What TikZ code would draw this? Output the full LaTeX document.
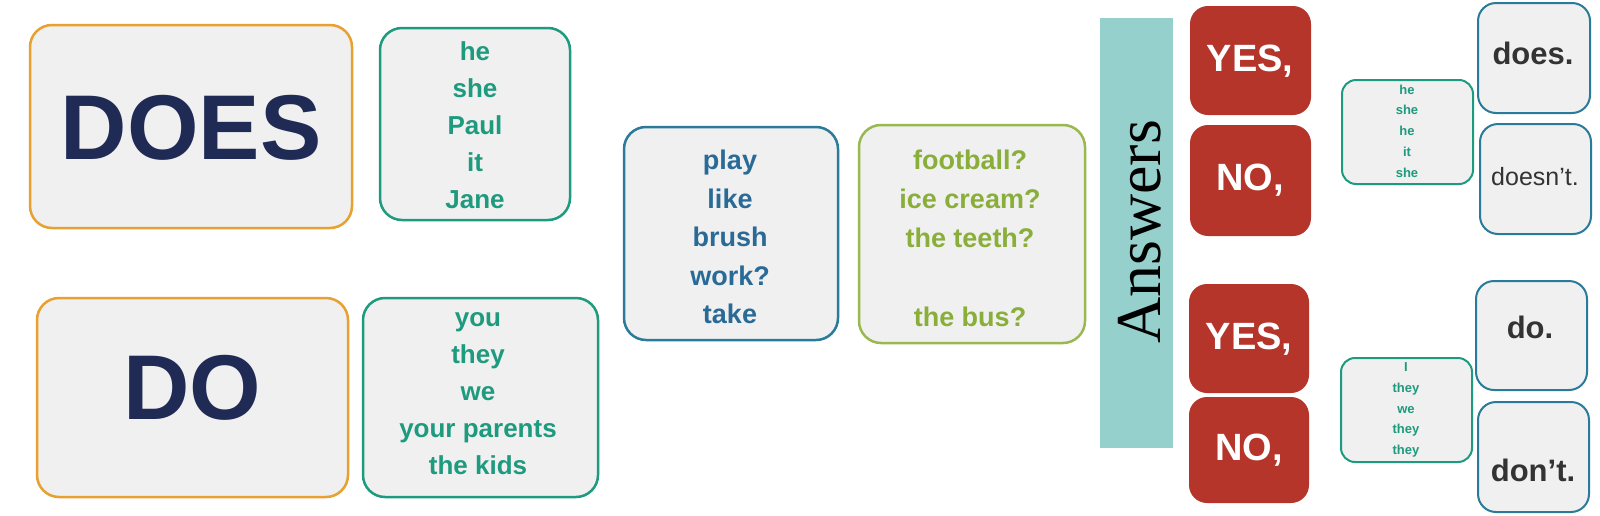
\documentclass[tikz,border=0pt]{standalone}
\usepackage{fontspec}
\setmainfont{Liberation Sans}
\newfontfamily\serifx{Liberation Serif}
\definecolor{orng}{HTML}{E8A030}
\definecolor{teal2}{HTML}{1E9A7E}
\definecolor{blu}{HTML}{2A7A9A}
\definecolor{blutxt}{HTML}{2A6A96}
\definecolor{grn}{HTML}{9AB850}
\definecolor{grntxt}{HTML}{8AAE3A}
\definecolor{bar}{HTML}{96D0CC}
\definecolor{redb}{HTML}{B5352B}
\definecolor{navy}{HTML}{1F2A55}
\definecolor{boxfill}{HTML}{F0F0F0}
\definecolor{dark}{HTML}{333333}
\begin{document}
\begin{tikzpicture}[x=1pt,y=-1pt,
  card/.style={rounded corners=22pt,fill=boxfill,line width=2.5pt},
  redcard/.style={rounded corners=18pt,fill=redb,draw=none},
  lbl/.style={font=\bfseries\fontsize{26}{37}\selectfont,align=center,inner sep=0pt},
  small/.style={font=\bfseries\fontsize{13}{20.7}\selectfont,align=center,inner sep=0pt,text=teal2},
  ans/.style={font=\bfseries\fontsize{31}{36}\selectfont,text=dark},
  yn/.style={font=\bfseries\fontsize{38}{40}\selectfont,text=white}]
\useasboundingbox (0,0) rectangle (1600,515);
% left column
\draw[card,draw=orng] (30,25) rectangle (352,228);
\node[font=\bfseries\fontsize{92}{92}\selectfont,text=navy] (does) at (191,128) {DOES};
\draw[card,draw=teal2] (380,28) rectangle (570,220);
\node[lbl,text=teal2] (p1) at (475,125) {he\\she\\Paul\\it\\Jane};
\draw[card,draw=orng] (37,298) rectangle (348,497);
\node[font=\bfseries\fontsize{92}{92}\selectfont,text=navy] (do) at (192,388) {DO};
\draw[card,draw=teal2] (363,298) rectangle (598,497);
\node[lbl,text=teal2] (p2) at (478,394) {you\\they\\we\\your parents\\the kids};
% middle
\draw[card,draw=blu] (624,127) rectangle (838,340);
\node[lbl,text=blutxt,font=\bfseries\fontsize{27}{38.5}\selectfont] (verbs) at (730,237) {play\\like\\brush\\work?\\take};
\draw[card,draw=grn] (859,125) rectangle (1085,343);
\node[lbl,text=grntxt,font=\bfseries\fontsize{27}{39.3}\selectfont] (objs) at (970,238) {football?\\ice cream?\\the teeth?\\ \\the bus?};
% answers bar
\fill[bar] (1100,18) rectangle (1173,448);
\node[rotate=90,font=\serifx\fontsize{64}{64}\selectfont,text=black] (answers) at (1140,232) {Answers};
% yes/no
\fill[redcard] (1190,6) rectangle (1311,115);
\node[yn] (y1) at (1250,61) {YES,};
\fill[redcard] (1190,125) rectangle (1311,236);
\node[yn] (n1) at (1250,180) {NO,};
\fill[redcard] (1189,284) rectangle (1309,393);
\node[yn] (y2) at (1249,339) {YES,};
\fill[redcard] (1189,397) rectangle (1309,503);
\node[yn] (n2) at (1249,450) {NO,};
% small pronoun boxes
\draw[rounded corners=14pt,fill=boxfill,draw=teal2,line width=2pt] (1342,80) rectangle (1473,184);
\node[small] (s1) at (1407,131) {he\\she\\he\\it\\she};
\draw[rounded corners=14pt,fill=boxfill,draw=teal2,line width=2pt] (1341,358) rectangle (1472,462);
\node[small] (s2) at (1406,410) {I\\they\\we\\they\\they};
% answer boxes
\draw[card,rounded corners=18pt,draw=blu,line width=2pt] (1478,3) rectangle (1590,113);
\node[ans] (a1) at (1533,53) {does.};
\draw[card,rounded corners=18pt,draw=blu,line width=2pt] (1480,124) rectangle (1591,234);
\node[ans,font=\fontsize{25}{28}\selectfont] (a2) at (1535,177) {doesn’t.};
\draw[card,rounded corners=18pt,draw=blu,line width=2pt] (1476,281) rectangle (1587,390);
\node[ans] (a3) at (1530,327) {do.};
\draw[card,rounded corners=18pt,draw=blu,line width=2pt] (1478,402) rectangle (1589,512);
\node[ans] (a4) at (1533,470) {don’t.};
\end{tikzpicture}
\end{document}
